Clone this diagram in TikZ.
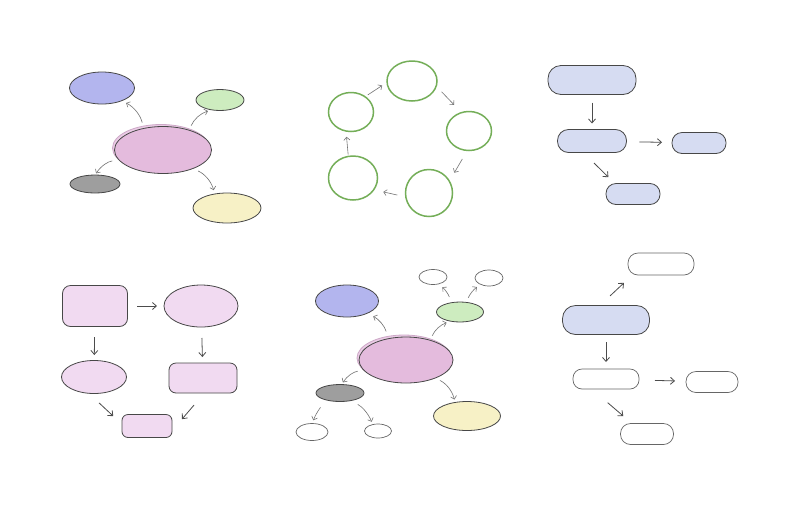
\documentclass[tikz,border=0pt]{standalone}
\usepackage{tikz}
\usetikzlibrary{shapes.geometric}
\usetikzlibrary{arrows.meta}

\definecolor{blueF}{HTML}{B3B5EE}
\definecolor{greenF}{HTML}{CDECBF}
\definecolor{pinkF}{HTML}{E4BBDD}
\definecolor{grayF}{HTML}{9E9E9E}
\definecolor{yellowF}{HTML}{F7F1C6}
\definecolor{pillB}{HTML}{D6DCF2}
\definecolor{lilac}{HTML}{F1DAF1}
\definecolor{ringG}{HTML}{74AE58}

\begin{document}
\begin{tikzpicture}[
        x=1pt, y=-1pt,
        defaultS/.style={
            draw=black!72,
            line width=0.8pt,
            inner sep=0pt,
            outer sep=0pt
        },
        sizeS/.style 2 args={
            minimum width=#1pt,
            minimum height=#2pt
        },
        ellipseS/.style={
            defaultS,
            ellipse
        },
        ghostS/.style={
            preaction={fill=pinkF!75, draw=pinkF!90!black, transform canvas={shift={(-2pt,2pt)}}}
        },
        blankS/.style={
            defaultS,
            draw=black!60,
            line width=0.7pt,
            fill=white
        },
        ringS/.style={
            draw=ringG,
            line width=1.5pt,
            ellipse,
            inner sep=0pt
        },
        boxS/.style={
            defaultS,
            rectangle,
            rounded corners=8pt
        },
        pillS/.style={
            defaultS,
            rectangle,
            rounded corners=#1
        },
        arrowS/.style={
            draw=black!55,
            line width=0.6pt,
            -{Straight Barb[length=3pt,width=6pt]}
        },
        darrowS/.style={
            draw=black!70,
            line width=0.8pt,
            -{Straight Barb[length=4pt,width=7pt]}
        },
    ]

    \fill[white] (0,0) rectangle (800,504);
    \useasboundingbox (0,0) rectangle (800,504);

    % mind map, top left
    \node[ellipseS, fill=blueF, sizeS={65}{32}] (B1) at (102,88) {};
    \node[ellipseS, fill=greenF, sizeS={48}{21}] (G1) at (220,100) {};
    \node[ellipseS, ghostS, fill=pinkF, sizeS={97}{47}] (C1) at (163,150) {};
    \node[ellipseS, fill=grayF, sizeS={50}{18}] (K1) at (95,184) {};
    \node[ellipseS, fill=yellowF, sizeS={68}{30}] (Y1) at (227,208) {};

    \draw[arrowS, shorten <=6pt, shorten >=5pt] (C1.132) to[bend right=25] (B1.-33);
    \draw[arrowS, shorten <=5pt, shorten >=4pt] (C1.37) to[bend left=25] (G1.230);
    \draw[arrowS, shorten <=7pt, shorten >=2pt] (C1.193) to[bend right=25] (K1.north);
    \draw[arrowS, shorten <=6pt, shorten >=4pt] (C1.-32) to[bend left=25] (Y1.131);

    % cycle of rings
    \node[ringS, sizeS={50}{40}] (T2) at (412,81) {};
    \node[ringS, sizeS={45}{39}] (L2) at (351,112) {};
    \node[ringS, sizeS={45}{39}] (R2) at (469,131) {};
    \node[ringS, sizeS={47}{47}] (BR2) at (429,193) {};
    \node[ringS, sizeS={49}{44}] (BL2) at (353,178) {};

    \draw[arrowS, shorten <=2.5pt, shorten >=5pt] (L2.47) -- (T2.184);
    \draw[arrowS, shorten <=7pt, shorten >=10pt] (T2.-13) -- (R2.113);
    \draw[arrowS, shorten <=9pt, shorten >=9pt] (R2.-96) -- (BR2.31);
    \draw[arrowS, shorten <=8pt, shorten >=9pt] (BR2.189) -- (BL2.-29);
    \draw[arrowS, shorten <=1pt, shorten >=5pt] (BL2.102) -- (L2.-104);

    % pills, top right
    \node[pillS=13pt, fill=pillB, sizeS={88}{29}] (P3) at (592,80) {};
    \node[pillS=11pt, fill=pillB, sizeS={69}{23}] (M3) at (592,141) {};
    \node[pillS=10pt, fill=pillB, sizeS={54}{21}] (R3) at (699,143) {};
    \node[pillS=10pt, fill=pillB, sizeS={54}{21}] (S3) at (633,194) {};

    \draw[darrowS, shorten <=8pt, shorten >=6pt] (P3) -- (M3);
    \draw[darrowS, shorten <=13pt, shorten >=10pt] (M3) -- (R3);
    \draw[darrowS, shorten <=15pt, shorten >=9pt] (M3.-127) -- (S3.150);

    % flow, bottom left
    \node[boxS, fill=lilac, sizeS={65}{41}] (A4) at (95,306) {};
    \node[ellipseS, fill=lilac, sizeS={74}{42}] (E4) at (201,306) {};
    \node[ellipseS, fill=lilac, sizeS={65}{33}] (F4) at (94,377) {};
    \node[boxS, rounded corners=7pt, fill=lilac, sizeS={68}{30}] (H4) at (203,378) {};
    \node[boxS, rounded corners=6pt, fill=lilac, sizeS={50}{23}] (S4) at (147,426) {};

    \draw[darrowS, shorten <=9.5pt, shorten >=7pt] (A4) -- (E4);
    \draw[darrowS, shorten <=10.5pt, shorten >=5.5pt] (A4) -- (F4);
    \draw[darrowS, shorten <=11pt, shorten >=6pt] (E4) -- (H4);
    \draw[darrowS, shorten <=14pt, shorten >=12pt] (F4.-108) -- (S4.176);
    \draw[darrowS, shorten <=15.8pt, shorten >=15.4pt] (H4.-85) -- (S4.-11);

    % mind map, bottom middle
    \node[ellipseS, fill=blueF, sizeS={63}{32}] (B5) at (347,301) {};
    \node[ellipseS, fill=greenF, sizeS={47}{20}] (G5) at (460,312) {};
    \node[ellipseS, blankS, sizeS={28}{15}] (GA5) at (433,277) {};
    \node[ellipseS, blankS, sizeS={28}{16}] (GB5) at (489,278) {};
    \node[ellipseS, ghostS, fill=pinkF, sizeS={94}{46}] (C5) at (406,360) {};
    \node[ellipseS, fill=grayF, sizeS={48}{17}] (K5) at (340,393) {};
    \node[ellipseS, fill=yellowF, sizeS={67}{29}] (Y5) at (467,416) {};
    \node[ellipseS, blankS, sizeS={32}{17}] (KA5) at (312,432) {};
    \node[ellipseS, blankS, sizeS={27}{14}] (KB5) at (378,431) {};

    \draw[arrowS, shorten <=7.5pt, shorten >=7pt] (C5.130) to[bend right=25] (B5.-32);
    \draw[arrowS, shorten <=5pt, shorten >=5pt] (C5.39) to[bend left=25] (G5.227);
    \draw[arrowS, shorten <=6pt, shorten >=5pt] (G5.133) to[bend right=15] (GA5.-51);
    \draw[arrowS, shorten <=5pt, shorten >=4.5pt] (G5.57) to[bend left=15] (GB5.217);
    \draw[arrowS, shorten <=6.5pt, shorten >=2.5pt] (C5.194) to[bend right=25] (K5.80);
    \draw[arrowS, shorten <=11pt, shorten >=3.5pt] (K5.215) to[bend right=15] (KA5.north);
    \draw[arrowS, shorten <=8.5pt, shorten >=3pt] (K5.-37) to[bend left=20] (KB5.128);
    \draw[arrowS, shorten <=5.5pt, shorten >=3pt] (C5.-32) to[bend left=25] (Y5.131);

    % pills, bottom right
    \node[pillS=13pt, fill=pillB, sizeS={87}{29}] (P6) at (606,320) {};
    \node[pillS=10pt, blankS, sizeS={66}{22}] (T6) at (661,264) {};
    \node[pillS=9pt, blankS, sizeS={66}{20}] (M6) at (606,379) {};
    \node[pillS=10pt, blankS, sizeS={52}{21}] (R6) at (712,382) {};
    \node[pillS=10pt, blankS, sizeS={53}{21}] (S6) at (647,434) {};

    \draw[darrowS, shorten <=14pt, shorten >=11.5pt] (P6.113) -- (T6.201);
    \draw[darrowS, shorten <=7.5pt, shorten >=7pt] (P6) -- (M6);
    \draw[darrowS, shorten <=16pt, shorten >=11pt] (M6) -- (R6);
    \draw[darrowS, shorten <=21pt, shorten >=11.5pt] (M6.215) -- (S6.145);

\end{tikzpicture}
\end{document}
